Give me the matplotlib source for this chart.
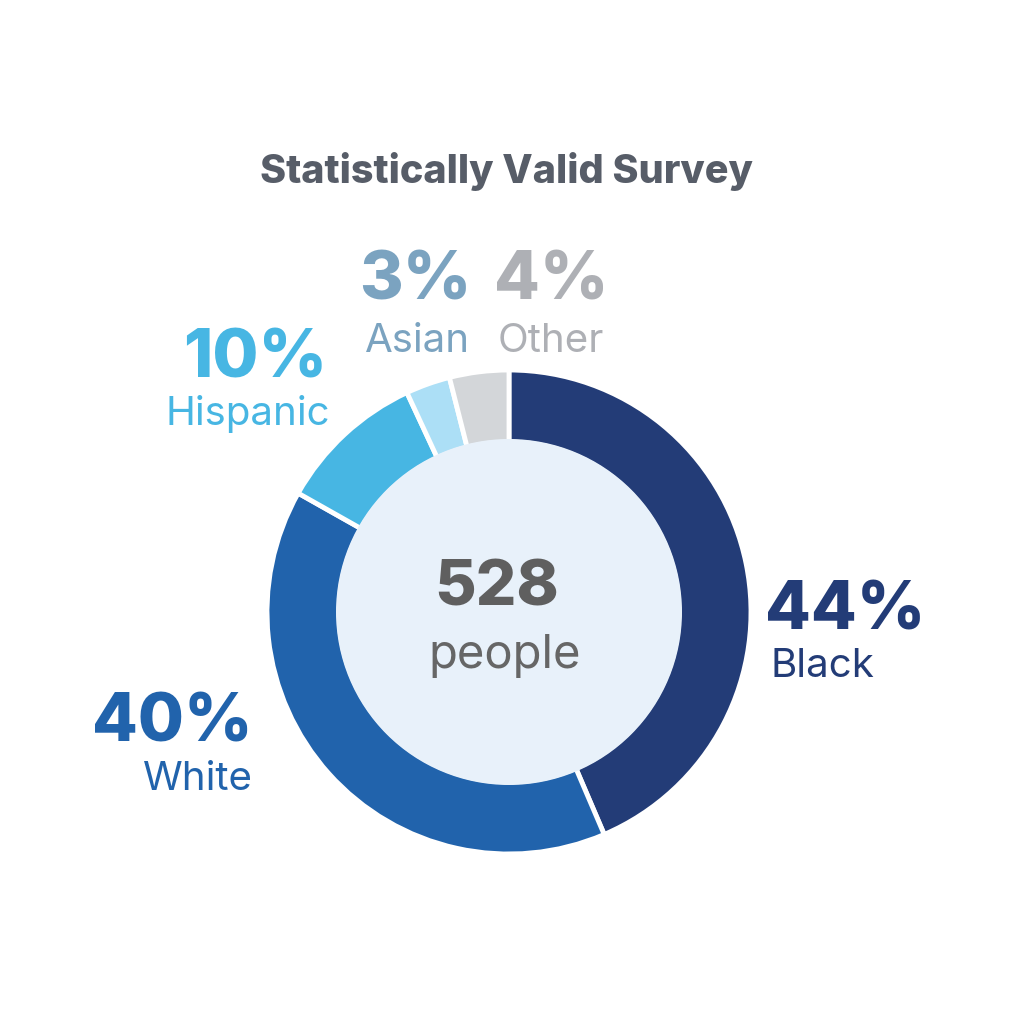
import matplotlib
matplotlib.use("Agg")
import matplotlib.pyplot as plt
from matplotlib.patches import Circle

categories = ["Black", "White", "Hispanic", "Asian", "Other"]
values = [44, 40, 10, 3, 4]
pct_labels = ["44%", "40%", "10%", "3%", "4%"]
total_people = "528"

wedge_colors = ["#233C77", "#2163AC", "#47B6E3", "#ACDFF6", "#D3D6D9"]
label_colors = ["#233C77", "#2163AC", "#47B6E3", "#7BA3C0", "#AEB0B5"]

H = 1024
fig = plt.figure(figsize=(10.24, 10.24), dpi=100)
ax = fig.add_axes([0, 0, 1, 1])

cx, cy = 509, H - 612
R = 242
r_in = 170

ax.pie(values, colors=wedge_colors, startangle=90, counterclock=False,
       center=(cx, cy), radius=R, frame=True,
       wedgeprops=dict(width=R - r_in, edgecolor="white", linewidth=3.5))
ax.set_xlim(0, 1024)
ax.set_ylim(0, 1024)
ax.set_aspect("equal")
ax.axis("off")
ax.add_patch(Circle((cx, cy), 173, facecolor="#E8F1FA", edgecolor="none", zorder=3))

FONT = "Inter"
pos = {
    "Black": (845, 630, 822, 677),
    "White": (172, 742, 198, 790),
    "Hispanic": (255, 378, 248, 425),
    "Asian": (415, 300, 418, 352),
    "Other": (551, 300, 551, 352),
}
for cat, pl, col in zip(categories, pct_labels, label_colors):
    px, py, nx, ny = pos[cat]
    ax.text(px, H - py, pl, ha="center", va="baseline", fontsize=48,
            fontweight=800, color=col, family=FONT)
    ax.text(nx, H - ny, cat, ha="center", va="baseline", fontsize=29,
            color=col, family=FONT)

ax.text(507, H - 183, "Statistically Valid Survey", ha="center", va="baseline",
        fontsize=28.5, fontweight=800, color="#575D68", family=FONT)
ax.text(497, H - 605, total_people, ha="center", va="baseline", fontsize=46,
        fontweight=800, color="#5F5F5F", family=FONT, zorder=5)
ax.text(505, H - 668, "people", ha="center", va="baseline", fontsize=34,
        color="#666666", family=FONT, zorder=5)

fig.savefig("out.png", dpi=100, facecolor="white")
